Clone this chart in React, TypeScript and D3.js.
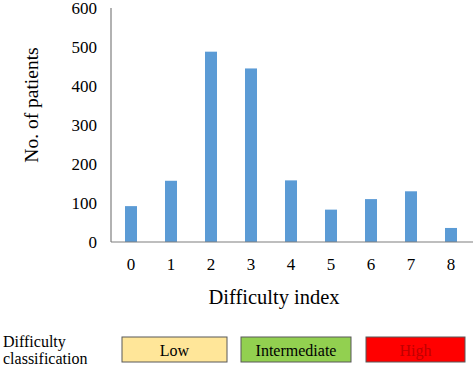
import * as d3 from "d3";

const categories = ["0", "1", "2", "3", "4", "5", "6", "7", "8"];
const patients = [92, 157, 488, 445, 158, 83, 110, 130, 36];
const yTicks = [0, 100, 200, 300, 400, 500, 600];
const classLabels = ["Low", "Intermediate", "High"];
const classFills = ["#FFE699", "#92D050", "#FF0000"];
const classText = ["#000", "#000", "#C00000"];
const classStarts = [122, 241, 366];
const classEnds = [227, 351, 465];

const font = '"Liberation Serif", "Times New Roman", Tinos, "DejaVu Serif", serif';

const App = () => {
  const width = 474;
  const height = 366;

  const x = d3.scaleBand().domain(categories).range([111, 471]).paddingInner(0.7).paddingOuter(0.35);
  const y = d3.scaleLinear().domain([0, 600]).range([242, 8]);

  return (
    <svg
      width={width}
      height={height}
      style={{ position: "absolute", left: 0, top: 0, background: "#fff", fontFamily: font }}
    >
      {patients.map((v, i) => (
        <rect
          key={i}
          x={x(categories[i])}
          y={y(v)}
          width={x.bandwidth()}
          height={y(0) - y(v)}
          fill="#5B9BD5"
        />
      ))}
      <line x1={111} x2={111} y1={y(600)} y2={y(0)} stroke="#7f7f7f" strokeWidth={1.2} />
      <line x1={111} x2={473} y1={y(0)} y2={y(0)} stroke="#7f7f7f" strokeWidth={1.2} />
      {yTicks.map((t) => (
        <text key={t} x={97} y={y(t)} dy="0.35em" textAnchor="end" fontSize={17}>
          {t}
        </text>
      ))}
      {categories.map((c) => (
        <text
          key={c}
          x={(x(c) as number) + x.bandwidth() / 2}
          y={264}
          dy="0.35em"
          textAnchor="middle"
          fontSize={17}
        >
          {c}
        </text>
      ))}
      <text
        transform="translate(31,105) rotate(-90)"
        textAnchor="middle"
        dy="0.35em"
        fontSize={19.5}
      >
        No. of patients
      </text>
      <text x={274} y={297} dy="0.35em" textAnchor="middle" fontSize={20.5}>
        Difficulty index
      </text>
      <text x={3} y={341} dy="0.35em" fontSize={16}>
        Difficulty
      </text>
      <text x={3} y={358} dy="0.35em" fontSize={16}>
        classification
      </text>
      {classLabels.map((l, i) => (
        <g key={l}>
          <rect
            x={classStarts[i]}
            y={337}
            width={classEnds[i] - classStarts[i]}
            height={25}
            fill={classFills[i]}
            stroke="#595959"
            strokeWidth={1}
          />
          <text
            x={(classStarts[i] + classEnds[i]) / 2}
            y={350}
            dy="0.35em"
            textAnchor="middle"
            fontSize={16}
            fill={classText[i]}
          >
            {l}
          </text>
        </g>
      ))}
    </svg>
  );
};

export default App;
